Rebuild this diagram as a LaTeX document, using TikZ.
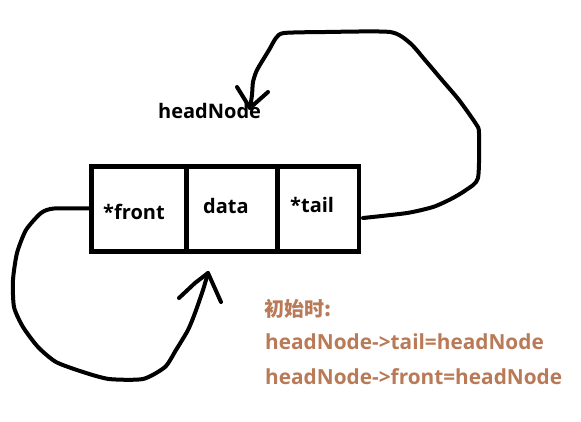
\documentclass[tikz,border=0pt]{standalone}
\usepackage{fontspec}
\setmainfont{Open Sans}
\newfontfamily\cjk{Noto Sans CJK SC}
\definecolor{notec}{RGB}{185,122,87}
\begin{document}
\begin{tikzpicture}[x=1pt,y=-1pt,
  cell/.style={draw, line width=4.7pt, inner sep=0pt, outer sep=0pt, minimum height=85pt},
  lbl/.style={anchor=base west, inner sep=0pt, font=\bfseries\fontsize{20}{24}\selectfont},
  note/.style={anchor=base west, inner sep=0pt, text=notec, font=\bfseries\fontsize{20.8}{24}\selectfont},
  curve/.style={line width=4pt, line cap=round, line join=round}]
\useasboundingbox (0,0) rectangle (581,421);
% node cells
\node[cell, minimum width=95pt] (fr) at (139,209) {};
\node[cell, minimum width=91pt] (da) at (232,209) {};
\node[cell, minimum width=81.5pt] (ta) at (318.25,209) {};
% labels
\node[lbl] (tfr) at (103,219) {*front};
\node[lbl] (tda) at (203,213) {data};
\node[lbl] (tta) at (290,212) {*tail};
\node[lbl] (hn) at (158,118) {headNode};
\node[note, font=\cjk\bfseries\fontsize{20}{24}\selectfont] (n0) at (264,316) {初始时:};
\node[note] (n1) at (265,349) {headNode->tail=headNode};
\node[note] (n2) at (265,384) {headNode->front=headNode};
% tail -> headNode
\coordinate (t0) at ([xshift=4pt,yshift=-9pt]ta.east);
\coordinate (tip1) at (250,108);
\draw[curve] plot[smooth, tension=0.4] coordinates {(t0) (407,213) (433,207) (451,199) (466,190) (478,178) (479,133) (476,124) (459,100) (442,80) (425,60) (410,43) (390,32) (325,32) (284,33) (276,38) (269,50) (257,70) (253,82) (252,95) (tip1)};
\draw[curve] (237,87) -- (tip1) -- (268,92);
% front -> data
\coordinate (f0) at ([yshift=0.5pt]fr.west);
\coordinate (tip2) at (208,273);
\draw[curve] plot[smooth, tension=0.4] coordinates {(f0) (54,208.5) (41,213) (26,230) (17,253) (13,280) (14,307) (23,327) (38,347) (56,362) (83,372) (109,379) (143,379) (165,367) (176,350) (188,330) (195,313) (203,290) (tip2)};
\draw[curve] (179,298) -- (195,283) -- (tip2) -- (221,302);
\end{tikzpicture}
\end{document}
